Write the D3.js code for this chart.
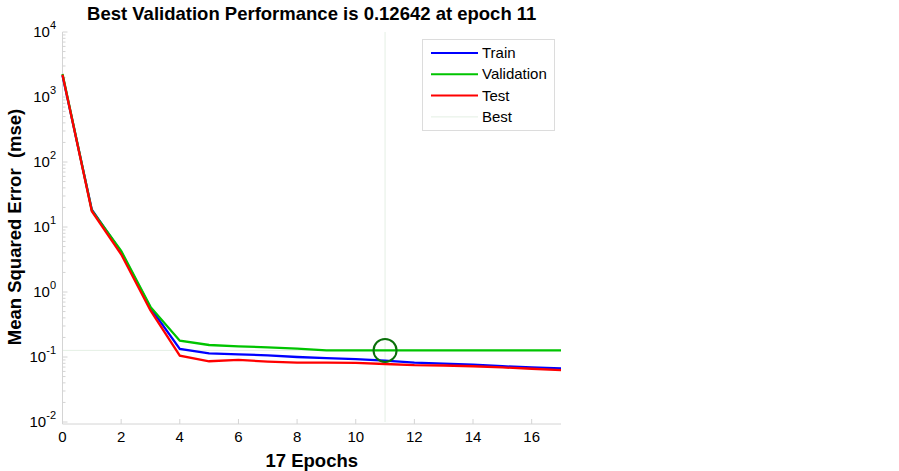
<!DOCTYPE html>
<html>
<head>
<meta charset="utf-8">
<script src="https://cdn.jsdelivr.net/npm/d3@7"></script>
<style>
  body { margin: 0; background: #fff; }
  text { font-family: "Liberation Sans", Arial, sans-serif; }
</style>
</head>
<body>
<script>
// data
var epochs = [0, 1, 2, 3, 4, 5, 6, 7, 8, 9, 10, 11, 12, 13, 14, 15, 16, 17];
var train = [2150, 18.5, 4.1, 0.57, 0.133, 0.114, 0.110, 0.106, 0.100, 0.096, 0.093, 0.088, 0.082, 0.079, 0.076, 0.072, 0.069, 0.067];
var validation = [2250, 18, 4.3, 0.59, 0.178, 0.153, 0.146, 0.141, 0.135, 0.1268, 0.1266, 0.12642, 0.12642, 0.12642, 0.12642, 0.12642, 0.12642, 0.12642];
var test = [2200, 17.5, 3.8, 0.52, 0.105, 0.086, 0.090, 0.085, 0.082, 0.082, 0.081, 0.078, 0.075, 0.074, 0.072, 0.069, 0.066, 0.063];
var bestEpoch = 11;
var bestValue = 0.12642;
var xTicks = [0, 2, 4, 6, 8, 10, 12, 14, 16];
var yExps = [-2, -1, 0, 1, 2, 3, 4];
var legendNames = ["Train", "Validation", "Test", "Best"];

var w = 899, h = 471;
var plotL = 62.5, plotR = 561, plotT = 32, plotB = 422;

var svg = d3.select("body").append("svg")
    .attr("width", w)
    .attr("height", h);

var x = d3.scaleLinear().domain([0, 17]).range([plotL, plotR]);
var y = d3.scaleLog().domain([1e-2, 1e4]).range([plotB, plotT]);

var axisColor = "#d4d4d4";

// best lines
svg.append("line")
    .attr("x1", x(bestEpoch)).attr("x2", x(bestEpoch))
    .attr("y1", y(1e4)).attr("y2", y(1e-2))
    .attr("stroke", "#e4efe4").attr("stroke-width", 1);
svg.append("line")
    .attr("x1", x(0)).attr("x2", x(17))
    .attr("y1", y(bestValue)).attr("y2", y(bestValue))
    .attr("stroke", "#e4efe4").attr("stroke-width", 1);

// axes lines
svg.append("line")
    .attr("x1", plotL).attr("x2", plotL).attr("y1", plotT).attr("y2", plotB + 2)
    .attr("stroke", axisColor);
svg.append("line")
    .attr("x1", plotL).attr("x2", plotR).attr("y1", plotB + 2).attr("y2", plotB + 2)
    .attr("stroke", axisColor);

// x ticks
xTicks.forEach(function (t) {
    svg.append("line")
        .attr("x1", x(t)).attr("x2", x(t))
        .attr("y1", plotB + 2).attr("y2", plotB - 3)
        .attr("stroke", axisColor);
    svg.append("text")
        .attr("x", x(t)).attr("y", 442)
        .attr("text-anchor", "middle")
        .attr("font-size", 15)
        .text(t);
});

// y ticks (major + minor)
yExps.forEach(function (e) {
    var v = Math.pow(10, e);
    svg.append("line")
        .attr("x1", plotL).attr("x2", plotL + 5)
        .attr("y1", y(v)).attr("y2", y(v))
        .attr("stroke", axisColor);
    if (e < 4) {
        for (var m = 2; m < 10; m++) {
            svg.append("line")
                .attr("x1", plotL).attr("x2", plotL + 3)
                .attr("y1", y(m * v)).attr("y2", y(m * v))
                .attr("stroke", axisColor);
        }
    }
    var lbl = svg.append("text")
        .attr("x", 56).attr("y", y(v) + 5)
        .attr("text-anchor", "end")
        .attr("font-size", 15);
    lbl.append("tspan").text("10");
    lbl.append("tspan").attr("dy", -8).attr("font-size", 11).text(e);
});

// series
var line = d3.line()
    .x(function (d, i) { return x(epochs[i]); })
    .y(function (d) { return y(d); });

var series = [
    { name: "Train", values: train, color: "#0000ff" },
    { name: "Validation", values: validation, color: "#00c400" },
    { name: "Test", values: test, color: "#ff0000" }
];

series.forEach(function (s) {
    svg.append("path")
        .datum(s.values)
        .attr("d", line)
        .attr("fill", "none")
        .attr("stroke", s.color)
        .attr("stroke-width", 2.3);
});

// best circle
svg.append("circle")
    .attr("cx", x(bestEpoch)).attr("cy", y(bestValue))
    .attr("r", 11.5)
    .attr("fill", "none")
    .attr("stroke", "#0a700a")
    .attr("stroke-width", 2);

// title + labels
svg.append("text")
    .attr("x", (plotL + plotR) / 2).attr("y", 20)
    .attr("text-anchor", "middle")
    .attr("font-size", 18.5).attr("font-weight", "bold")
    .text("Best Validation Performance is " + bestValue + " at epoch " + bestEpoch);

svg.append("text")
    .attr("x", (plotL + plotR) / 2).attr("y", 467)
    .attr("text-anchor", "middle")
    .attr("font-size", 18.5).attr("font-weight", "bold")
    .text("17 Epochs");

svg.append("text")
    .attr("transform", "translate(21," + ((plotT + plotB) / 2) + ") rotate(-90)")
    .attr("text-anchor", "middle")
    .attr("font-size", 18.5).attr("font-weight", "bold")
    .style("white-space", "pre")
    .text("Mean Squared Error  (mse)");

// legend
var lg = svg.append("g");
lg.append("rect")
    .attr("x", 422.5).attr("y", 39.5)
    .attr("width", 132).attr("height", 91)
    .attr("fill", "#fff")
    .attr("stroke", "#dcdcdc");
var legendColors = ["#0000ff", "#00c400", "#ff0000", "#e4efe4"];
legendNames.forEach(function (n, i) {
    var ly = 53 + i * 21.3;
    lg.append("line")
        .attr("x1", 431).attr("x2", 478)
        .attr("y1", ly).attr("y2", ly)
        .attr("stroke", legendColors[i])
        .attr("stroke-width", i < 3 ? 2 : 1);
    lg.append("text")
        .attr("x", 482).attr("y", ly + 5)
        .attr("font-size", 15)
        .text(n);
});
</script>
</body>
</html>
